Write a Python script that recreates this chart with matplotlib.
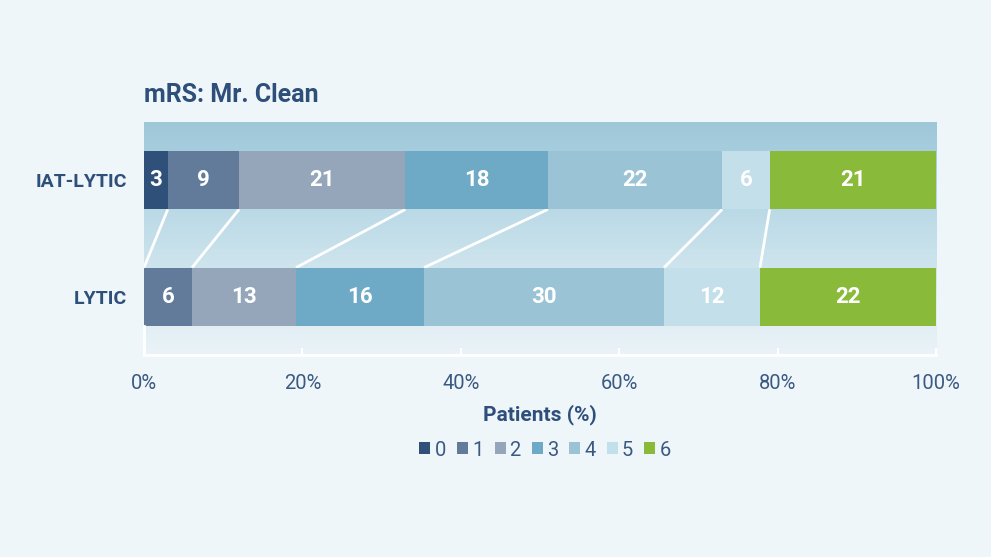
import matplotlib
matplotlib.use("Agg")
import matplotlib.pyplot as plt
import numpy as np
from matplotlib import font_manager as fm
from matplotlib.colors import LinearSegmentedColormap

# ---- data ----
groups = ["IAT-LYTIC", "LYTIC"]
categories = ["0", "1", "2", "3", "4", "5", "6"]
iat_lytic = [3, 9, 21, 18, 22, 6, 21]
lytic = [0, 6, 13, 16, 30, 12, 22]
xticks = [0, 20, 40, 60, 80, 100]
xticklabels = ["0%", "20%", "40%", "60%", "80%", "100%"]
colors = ["#2f5079", "#627b9b", "#95a6bb", "#6eaac5", "#9ac3d5", "#c3dfea", "#8aba3a"]

names = {f.name for f in fm.fontManager.ttflist}
fam = "Liberation Sans Narrow" if "Liberation Sans Narrow" in names else "Roboto"
plt.rcParams['font.family'] = [fam, 'DejaVu Sans']

bg = "#eff6fa"
txt = "#3a5a82"
dark = "#2e4f7a"

fig = plt.figure(figsize=(9.91, 5.57), dpi=100, facecolor=bg)
ax = fig.add_axes([144/991, 1-355/557, (936-144)/991, (355-122)/557])
ax.set_xlim(0, 100)
ax.set_ylim(-0.5, 1.5)

# gradient background
cmap = LinearSegmentedColormap.from_list("g", [(0, "#eaf3f8"), (0.22, "#dcebf2"), (0.5, "#c4dfea"), (0.85, "#a8cfdf"), (1.0, "#9ec7d8")])
grad = np.linspace(0, 1, 256).reshape(-1, 1)
ax.imshow(grad, aspect="auto", cmap=cmap, extent=[0, 100, -0.5, 1.5], origin="lower", zorder=0)

ypos = {"IAT-LYTIC": 1, "LYTIC": 0}
h = 0.5
data = {"IAT-LYTIC": iat_lytic, "LYTIC": lytic}
tot = {g: sum(v) for g, v in data.items()}

for g in groups:
    vals = data[g]
    pct = [v / tot[g] * 100 for v in vals]
    left = 0
    for i, (v, p) in enumerate(zip(vals, pct)):
        if v > 0:
            ax.barh(ypos[g], p, left=left, height=h, color=colors[i], edgecolor="none", zorder=2,
                    label=categories[i] if g == "IAT-LYTIC" else None)
            ax.text(left + p / 2, ypos[g], str(v), ha="center", va="center", color="white",
                    fontsize=16, fontweight="bold", zorder=3)
        left += p

# connectors
cum_a = np.cumsum([v / tot["IAT-LYTIC"] * 100 for v in iat_lytic])[:-1]
cum_b = np.cumsum([v / tot["LYTIC"] * 100 for v in lytic])[:-1]
for a, b in zip(cum_a, cum_b):
    ax.plot([a, b], [1 - h / 2, h / 2], color="white", lw=2, zorder=1.5, solid_capstyle="butt")

for s in ["top", "right"]:
    ax.spines[s].set_visible(False)
for s in ["left", "bottom"]:
    ax.spines[s].set_color("white")
    ax.spines[s].set_linewidth(2)
    ax.spines[s].set_zorder(4)
ax.spines["left"].set_bounds(-0.5, -0.25)

ax.set_xticks(xticks)
ax.set_xticklabels(xticklabels)
ax.tick_params(axis="x", direction="in", length=5, width=1.5, color="white", labelsize=14.5,
               labelcolor=txt, pad=14)
ax.set_yticks([ypos[g] for g in groups])
ax.set_yticklabels(groups)
ax.tick_params(axis="y", length=0, labelsize=14, labelcolor=dark, pad=12)
for t in ax.get_yticklabels():
    t.set_fontweight("bold")

ax.set_xlabel("Patients (%)", fontsize=15, fontweight="bold", color=dark, labelpad=8)
fig.text(144/991, 1-95/557, "mRS: Mr. Clean", fontsize=18, fontweight="bold", color=dark,
         ha="left", va="center")

leg = fig.legend(loc="center", bbox_to_anchor=(545/991, 1-450/557), ncol=7, frameon=False,
                 fontsize=14.5, handlelength=0.55, handleheight=0.55, handletextpad=0.2,
                 columnspacing=0.55, labelcolor=txt)

fig.savefig("out.png", dpi=100, facecolor=bg)
